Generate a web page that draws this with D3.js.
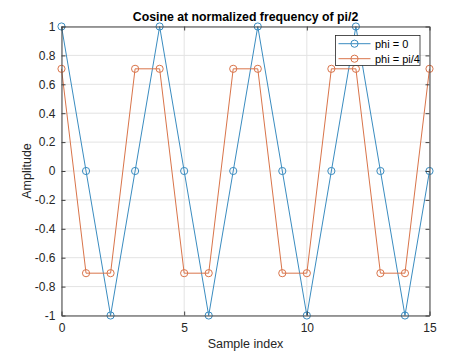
<!DOCTYPE html>
<html><head><meta charset="utf-8">
<script src="https://cdn.jsdelivr.net/npm/d3@7"></script>
<style>body{margin:0;background:#fff}svg{display:block}</style>
</head><body>
<script>
const sampleIndex = [0,1,2,3,4,5,6,7,8,9,10,11,12,13,14,15];
const phi0 = [1,0,-1,0,1,0,-1,0,1,0,-1,0,1,0,-1,0];
const phiPi4 = [0.7071,-0.7071,-0.7071,0.7071,0.7071,-0.7071,-0.7071,0.7071,0.7071,-0.7071,-0.7071,0.7071,0.7071,-0.7071,-0.7071,0.7071];
const xTicks = [0,5,10,15];
const yTicks = [-1,-0.8,-0.6,-0.4,-0.2,0,0.2,0.4,0.6,0.8,1];
const yTickLabels = ["-1","-0.8","-0.6","-0.4","-0.2","0","0.2","0.4","0.6","0.8","1"];
const seriesNames = ["phi = 0","phi = pi/4"];
const colors = ["#3a8cc0","#d9744a"];

const W=474,H=355;
const m={l:61.5,r:429.5,t:26.5,b:315.5};
const svg=d3.select("body").append("svg").attr("width",W).attr("height",H);
const x=d3.scaleLinear().domain([0,15]).range([m.l,m.r]);
const y=d3.scaleLinear().domain([-1,1]).range([m.b,m.t]);
const font="Arial, 'Liberation Sans', Helvetica, sans-serif";
const axisCol="#404040";

// grid
const g=svg.append("g");
g.selectAll(".gx").data(xTicks).join("line").attr("x1",d=>x(d)).attr("x2",d=>x(d)).attr("y1",m.t).attr("y2",m.b).attr("stroke","#e3e3e3").attr("stroke-width",1);
g.selectAll(".gy").data(yTicks).join("line").attr("y1",d=>y(d)).attr("y2",d=>y(d)).attr("x1",m.l).attr("x2",m.r).attr("stroke","#e3e3e3").attr("stroke-width",1);

// series
const data=[phi0,phiPi4];
data.forEach((vals,i)=>{
  const pts=sampleIndex.map((s,j)=>[s,vals[j]]);
  svg.append("path").attr("d",d3.line().x(d=>x(d[0])).y(d=>y(d[1]))(pts)).attr("fill","none").attr("stroke",colors[i]).attr("stroke-width",1);
  svg.append("g").selectAll("circle").data(pts).join("circle").attr("cx",d=>x(d[0])).attr("cy",d=>y(d[1])).attr("r",3.6).attr("fill","none").attr("stroke",colors[i]).attr("stroke-width",1);
});

// axes
const xa=svg.append("g").attr("transform",`translate(0,${m.b})`).call(d3.axisBottom(x).tickValues(xTicks).tickSizeInner(-4).tickSizeOuter(0).tickPadding(8));
const xt=svg.append("g").attr("transform",`translate(0,${m.t})`).call(d3.axisTop(x).tickValues(xTicks).tickSizeInner(-4).tickSizeOuter(0).tickFormat(""));
const ya=svg.append("g").attr("transform",`translate(${m.l},0)`).call(d3.axisLeft(y).tickValues(yTicks).tickSizeInner(-4).tickSizeOuter(0).tickPadding(6).tickFormat((d,i)=>yTickLabels[i]));
const yr=svg.append("g").attr("transform",`translate(${m.r},0)`).call(d3.axisRight(y).tickValues(yTicks).tickSizeInner(-4).tickSizeOuter(0).tickFormat(""));
[xa,xt,ya,yr].forEach(a=>{
  a.selectAll(".domain").attr("stroke",axisCol);
  a.selectAll(".tick line").attr("stroke",axisCol);
  a.selectAll("text").attr("fill","#262626").style("font-family",font).style("font-size","12px");
});

// title & labels
svg.append("text").attr("x",(m.l+m.r)/2).attr("y",21).attr("text-anchor","middle").style("font-family",font).style("font-size","12.3px").style("font-weight","bold").attr("fill","#000").text("Cosine at normalized frequency of pi/2");
svg.append("text").attr("x",(m.l+m.r)/2).attr("y",348).attr("text-anchor","middle").style("font-family",font).style("font-size","12.5px").attr("fill","#262626").text("Sample index");
svg.append("text").attr("transform",`translate(31,${(m.t+m.b)/2}) rotate(-90)`).attr("text-anchor","middle").style("font-family",font).style("font-size","12.5px").attr("fill","#262626").text("Amplitude");

// legend
const lg=svg.append("g");
lg.append("rect").attr("x",335.5).attr("y",35.5).attr("width",84.5).attr("height",30).attr("fill","#fff").attr("stroke","#262626").attr("stroke-width",0.8);
seriesNames.forEach((n,i)=>{
  const yy=43.7+i*15;
  lg.append("line").attr("x1",338.5).attr("x2",370.5).attr("y1",yy).attr("y2",yy).attr("stroke",colors[i]).attr("stroke-width",1);
  lg.append("circle").attr("cx",354.5).attr("cy",yy).attr("r",3.6).attr("fill","none").attr("stroke",colors[i]);
  lg.append("text").attr("x",375).attr("y",yy+4).style("font-family",font).style("font-size","11px").attr("fill","#000").text(n);
});
</script>
</body></html>
